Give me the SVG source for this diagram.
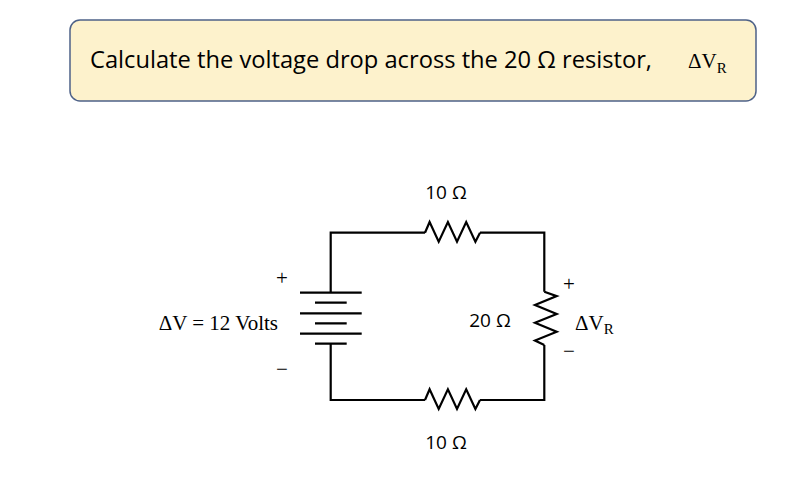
<svg xmlns="http://www.w3.org/2000/svg" width="799" height="482" viewBox="0 0 799 482">
<style>
.w{fill:none;stroke:#000;stroke-width:2.2;stroke-linejoin:miter}
.s{font-family:"Liberation Serif",serif;font-size:21px;fill:#000}
.c{font-family:"Open Sans","Liberation Sans",sans-serif;font-size:19px;fill:#000}
</style>
<rect width="799" height="482" fill="#fff"/>
<g id="title">
<rect x="70" y="20" width="686" height="81" rx="10" fill="#fdf2cc" stroke="#4e6288" stroke-width="1.5"/>
<text x="90" y="68" font-family="'Open Sans','Liberation Sans',sans-serif" font-size="23" textLength="562" lengthAdjust="spacingAndGlyphs">Calculate the voltage drop across the 20 Ω resistor,</text>
<text x="688" y="68" font-family="'Liberation Serif',serif" font-size="21">ΔV<tspan font-size="15" dy="5">R</tspan></text>
</g>
<g id="connectors">
<path class="w" d="M425,232.7 H330.7 V292.7 M330.7,343.7 V400 H425 M480,400 H544.3 V345 M544.3,291.7 V232.7 H480"/>
</g>
<g id="r-top">
<path class="w" d="M425,232.7 L429.6,222 L438.7,241.7 L447.9,222 L457,241.7 L466.2,222 L475.4,241.7 L480,232.7"/>
<text class="c" x="446" y="199" text-anchor="middle">10 Ω</text>
</g>
<g id="r-bottom">
<path class="w" d="M425,400 L429.6,389.3 L438.7,409 L447.9,389.3 L457,409 L466.2,389.3 L475.4,409 L480,400"/>
<text class="c" x="446" y="449" text-anchor="middle">10 Ω</text>
</g>
<g id="r-right">
<path class="w" d="M544.3,291.7 L556.7,296.1 L535,305 L556.7,313.9 L535,322.8 L556.7,331.7 L535,340.6 L544.3,345"/>
<text class="c" x="490" y="327" text-anchor="middle">20 Ω</text>
<text class="s" x="569" y="291" text-anchor="middle">+</text>
<text class="s" x="569" y="358" text-anchor="middle">−</text>
<text class="s" x="575" y="330">ΔV<tspan font-size="15" dy="4">R</tspan></text>
</g>
<g id="battery">
<path class="w" d="M300,292.7 H361.7 M315,302.7 H346.7 M300,313.3 H361.7 M315,323.3 H346.7 M300,333.7 H361.7 M315,343.7 H346.7"/>
<text class="s" x="282" y="285" text-anchor="middle">+</text>
<text class="s" x="282" y="376" text-anchor="middle">−</text>
<text class="s" x="278" y="330" text-anchor="end">ΔV = 12 Volts</text>
</g>
</svg>
